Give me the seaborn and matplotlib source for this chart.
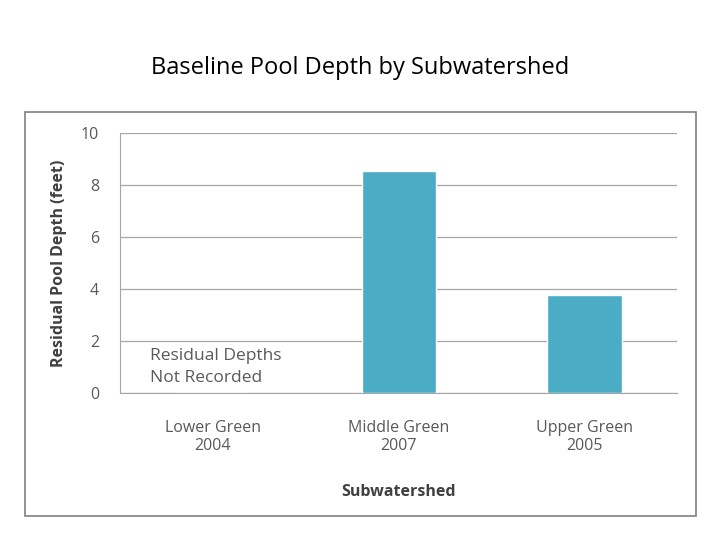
import matplotlib
matplotlib.use("Agg")
import matplotlib.pyplot as plt
import matplotlib.patches as patches
import seaborn as sns
import pandas as pd

categories = ["Lower Green\n2004", "Middle Green\n2007", "Upper Green\n2005"]
depths = [0.0, 8.55, 3.78]

sns.set_style("white")
plt.rcParams['font.family'] = ['Open Sans', 'DejaVu Sans']

df = pd.DataFrame({"Subwatershed": categories, "Depth": depths})

fig = plt.figure(figsize=(7.2, 5.4), dpi=100)
ax = fig.add_axes([0.1667, 0.272, 0.774, 0.482])
sns.barplot(data=df, x="Subwatershed", y="Depth", color="#4BACC6",
            width=0.4, saturation=1, ax=ax, zorder=3)

ax.set_ylim(0, 10)
ax.set_xlim(-0.5, 2.5)
ax.set_yticks(range(0, 11, 2))
ax.yaxis.grid(True, color="#A6A6A6", linewidth=0.9, zorder=0)
for s in ["top", "right"]:
    ax.spines[s].set_visible(False)
for s in ["left", "bottom"]:
    ax.spines[s].set_color("#A6A6A6")
ax.set_xticks([-0.5, 0.5, 1.5, 2.5], minor=True)
ax.tick_params(axis="x", which="major", length=0, pad=19)
ax.tick_params(axis="x", which="minor", length=5, color="#A6A6A6")
ax.tick_params(axis="y", length=5, color="#A6A6A6", pad=10)
ax.tick_params(labelsize=11.5, labelcolor="#595959")
ax.set_ylabel("Residual Pool Depth (feet)", fontsize=11.5, fontweight="bold",
              color="#404040", labelpad=10)
ax.set_xlabel("Subwatershed", fontsize=11.5, fontweight="bold",
              color="#404040", labelpad=22)

ax.text(-0.34, 1.0, "Residual Depths\nNot Recorded", fontsize=12.5,
        color="#595959", va="center", ha="left", linespacing=1.45)

fig.text(0.5, 0.874, "Baseline Pool Depth by Subwatershed", ha="center",
         va="center", fontsize=17, color="black")

fig.patches.append(patches.Rectangle((0.035, 0.044), 0.932, 0.748,
                                     transform=fig.transFigure, fill=False,
                                     edgecolor="#808080", linewidth=1.2))

fig.savefig("out.png", dpi=100)
